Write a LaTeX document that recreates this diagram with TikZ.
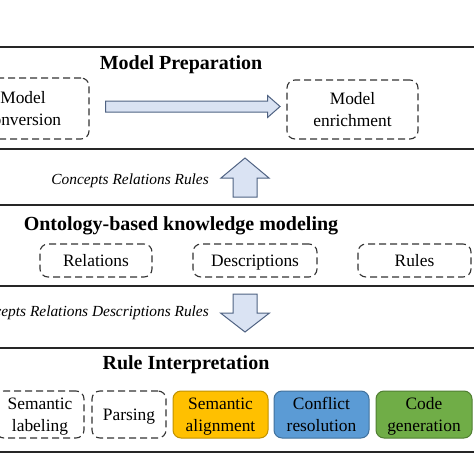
\documentclass[tikz,border=0pt]{standalone}
\usepackage{fontspec}
\setmainfont{Liberation Serif}
\usetikzlibrary{calc}

\definecolor{arrowfill}{HTML}{DAE3F3}
\definecolor{arrowdraw}{HTML}{4F6282}
\definecolor{orfill}{HTML}{FFC000}
\definecolor{ordraw}{HTML}{C09100}
\definecolor{blfill}{HTML}{5B9BD5}
\definecolor{bldraw}{HTML}{41719C}
\definecolor{grfill}{HTML}{70AD47}
\definecolor{grdraw}{HTML}{507E32}

\begin{document}
\begin{tikzpicture} [x=1pt,y=-1pt,
  dbox/.style={draw=black!80,line width=1.1pt,dash pattern=on 7pt off 4pt,rounded corners=8pt,align=center,inner sep=0pt,text depth=0pt,font=\fontsize{17.4}{21.5}\selectfont},
  cbox/.style={line width=1pt,rounded corners=8pt,align=center,inner sep=0pt,text depth=0pt,font=\fontsize{17.4}{21.5}\selectfont},
  ttl/.style={font=\fontsize{20}{24}\selectfont\bfseries},
  lbl/.style={anchor=east,inner sep=0pt,font=\fontsize{15.4}{18}\selectfont\itshape},
  barrow/.style={draw=arrowdraw,fill=arrowfill,line width=1pt,line join=miter}]
\clip (0,0) rectangle (474,474);
\useasboundingbox (0,0) rectangle (474,474);
\coordinate (O) at (0,0);
% section rules
\foreach \y in {47,149,205,286,348,452} {
 \draw[black!85,line width=1.6pt] (0,\y) -- (474,\y);
}
% model preparation
\node[ttl] (prep) at (181,65) {Model Preparation};
\node[dbox,minimum width=132,minimum height=61] (conv) at (23,108.5) {Model\\conversion};
\node[dbox,minimum width=131,minimum height=59] (enr) at (352.5,109.5) {Model\\enrichment};
\draw[barrow] ($(conv.east)+(16,-7.5)$) -- ++(162,0) -- ++(0,-5.5) -- ++(12.5,11) -- ++(-12.5,11) -- ++(0,-5.5) -- ++(-162,0) -- cycle;
% up arrow
\node[lbl] (up lbl) at (209,181) {Concepts Relations Rules};
\draw[barrow] (233,197) -- (233,178) -- (221,178) -- (245,158) -- (269,178) -- (257,178) -- (257,197) -- cycle;
% ontology
\node[ttl] (onto) at (181,225.5) {Ontology-based knowledge modeling};
\node[dbox,minimum width=112,minimum height=33] (rel) at (96,260.5) {Relations};
\node[dbox,minimum width=124,minimum height=33] (desc) at (255,260.5) {Descriptions};
\node[dbox,minimum width=113,minimum height=33] (rules) at (414.5,260.5) {Rules};
% down arrow
\node[lbl] (down lbl) at (209,313) {Concepts Relations Descriptions Rules};
\draw[barrow] (233,294) -- (257,294) -- (257,313) -- (269.5,313) -- (245,332) -- (220.5,313) -- (233,313) -- cycle;
% rule interpretation
\node[ttl] (interp) at (186,364.5) {Rule Interpretation};
\node[dbox,minimum width=88,minimum height=47] (lab) at (40,414.5) {Semantic\\labeling};
\node[dbox,minimum width=74,minimum height=47] (pars) at (129,414.5) {Parsing};
\node[cbox,draw=ordraw,fill=orfill,minimum width=95,minimum height=47] (align) at (220.5,414.5) {Semantic\\alignment};
\node[cbox,draw=bldraw,fill=blfill,minimum width=95,minimum height=47] (conf) at (321.5,414.5) {Conflict\\resolution};
\node[cbox,draw=grdraw,fill=grfill,minimum width=96,minimum height=47] (code) at (424,414.5) {Code\\generation};
\end{tikzpicture}
\end{document}
